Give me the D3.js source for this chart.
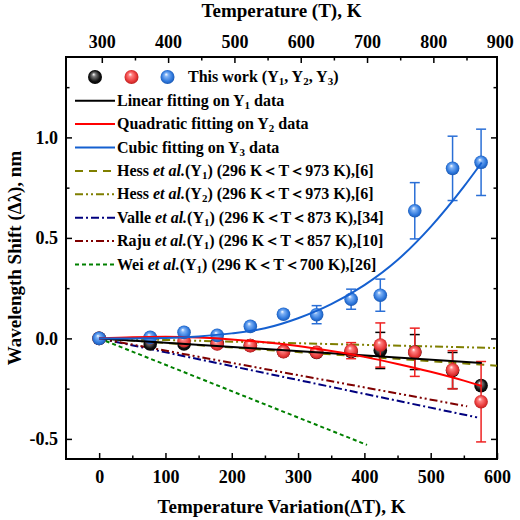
<!DOCTYPE html>
<html>
<head>
<meta charset="utf-8">
<script src="https://cdn.jsdelivr.net/npm/d3@7"></script>
<style>
body { margin: 0; background: #fff; }
text { font-family: "Liberation Serif", "Times New Roman", serif; font-weight: bold; }
</style>
</head>
<body>
<svg id="chart" width="520" height="520"></svg>
<script>
// measured points (temperature variation, K)
var dT = [0, 77, 128, 178, 228, 278, 328, 380, 424, 476, 533, 576];
var y1 = [0, -0.028, -0.028, -0.025, -0.035, -0.065, -0.07, -0.065, -0.06, -0.068, -0.16, -0.235];
var y1Err = [0, 0.01, 0.01, 0.01, 0.015, 0.015, 0.015, 0.02, 0.09, 0.087, 0.09, 0.02];
var y2 = [0, 0.003, -0.012, -0.028, -0.036, -0.066, -0.069, -0.061, -0.033, -0.069, -0.156, -0.315];
var y2Err = [0, 0.01, 0.015, 0.015, 0.02, 0.02, 0.02, 0.04, 0.11, 0.12, 0.095, 0.2];
var y3 = [0, 0.005, 0.03, 0.015, 0.06, 0.12, 0.118, 0.195, 0.215, 0.635, 0.846, 0.876];
var y3Err = [0, 0.01, 0.02, 0.015, 0.02, 0.02, 0.045, 0.05, 0.08, 0.14, 0.16, 0.165];

// fitted curves
var linFitX = [0, 577];
var linFitY = [0, -0.122];
var quadFitX = [0, 50, 100, 150, 200, 250, 300, 350, 400, 450, 500, 550, 577];
var quadFitY = [0, 0.006, 0.008, 0.004, -0.005, -0.019, -0.038, -0.063, -0.092, -0.127, -0.166, -0.21, -0.237];
var cubFitX = [0, 50, 100, 150, 200, 250, 300, 350, 400, 450, 500, 550, 577];
var cubFitY = [0, 0, 0.002, 0.01, 0.025, 0.05, 0.1, 0.17, 0.265, 0.39, 0.555, 0.755, 0.875];

// literature lines: start at origin, end point
var litNames = ["HessY1", "HessY2", "Valle", "Raju", "Wei"];
var litEndX = [600, 600, 570, 555, 404];
var litEndY = [-0.136, -0.048, -0.393, -0.338, -0.53];
var litColors = ["#7f7f00", "#7f7f00", "#00007f", "#7f0000", "#008000"];
var litDash = ["8,6", "8,3,2,3,2,3", "8,3,2,3", "8,3,2,3,2,3", "4,3"];

var svg = d3.select("#chart");
var pL = 66, pR = 497, pT = 57, pB = 459;

var x = d3.scaleLinear().domain([-50, 600]).range([pL, pR]);
var xTop = d3.scaleLinear().domain([246, 896]).range([pL, pR]);
var y = d3.scaleLinear().domain([-0.6, 1.4]).range([pB, pT]);

var defs = svg.append("defs");
defs.append("clipPath").attr("id", "plotclip")
    .append("rect").attr("x", pL).attr("y", pT).attr("width", pR - pL).attr("height", pB - pT);

function ballGrad(id, light, mid, dark) {
    var g = defs.append("radialGradient").attr("id", id)
        .attr("cx", "50%").attr("cy", "50%").attr("r", "55%").attr("fx", "40%").attr("fy", "30%");
    g.append("stop").attr("offset", "0%").attr("stop-color", "#ffffff");
    g.append("stop").attr("offset", "25%").attr("stop-color", light);
    g.append("stop").attr("offset", "70%").attr("stop-color", mid);
    g.append("stop").attr("offset", "100%").attr("stop-color", dark);
}
ballGrad("gBlack", "#777", "#111", "#000");
ballGrad("gRed", "#ff8080", "#e83a3a", "#b01818");
ballGrad("gBlue", "#7fb2f5", "#2f78dc", "#1450a8");

function isMajor(d) { return Math.abs(d * 2 - Math.round(d * 2)) < 1e-6; }

// axes: ticks inward on all four sides
var tickIn = 6, minorIn = 3.5;
var axB = d3.axisBottom(x).tickValues(d3.range(0, 601, 50)).tickFormat(function(d){ return d % 100 === 0 ? d : ""; })
    .tickSize(0);
var gB = svg.append("g").attr("transform", "translate(0," + pB + ")").call(axB);
gB.select(".domain").remove();
gB.selectAll(".tick line").attr("y2", function(d){ return d % 100 === 0 ? -tickIn : -minorIn; })
    .attr("stroke", "#000").attr("stroke-width", 1.5);
gB.selectAll("text").attr("y", 24).attr("dy", 0).attr("font-size", 18).attr("fill", "#000");

var axT = d3.axisTop(xTop).tickValues(d3.range(300, 901, 50)).tickFormat(function(d){ return d % 100 === 0 ? d : ""; })
    .tickSize(0);
var gT = svg.append("g").attr("transform", "translate(0," + pT + ")").call(axT);
gT.select(".domain").remove();
gT.selectAll(".tick line").attr("y2", function(d){ return d > 896 ? 0 : (d % 100 === 0 ? tickIn : minorIn); })
    .attr("stroke", "#000").attr("stroke-width", 1.5);
gT.selectAll("text").attr("y", -9).attr("dy", 0).attr("font-size", 18).attr("fill", "#000");

var axL = d3.axisLeft(y).tickValues(d3.range(-0.5, 1.26, 0.25))
    .tickFormat(function(d){ return isMajor(d) ? d.toFixed(1) : ""; })
    .tickSize(0);
var gL = svg.append("g").attr("transform", "translate(" + pL + ",0)").call(axL);
gL.select(".domain").remove();
gL.selectAll(".tick line").attr("x2", function(d){ return isMajor(d) ? tickIn : minorIn; })
    .attr("stroke", "#000").attr("stroke-width", 1.5);
gL.selectAll("text").attr("x", -8).attr("font-size", 18).attr("fill", "#000");

var axR = d3.axisRight(y).tickValues(d3.range(-0.5, 1.26, 0.25)).tickFormat("").tickSize(0);
var gR = svg.append("g").attr("transform", "translate(" + pR + ",0)").call(axR);
gR.select(".domain").remove();
gR.selectAll(".tick line").attr("x2", function(d){ return isMajor(d) ? -tickIn : -minorIn; })
    .attr("stroke", "#000").attr("stroke-width", 1.5);

svg.append("rect").attr("x", pL).attr("y", pT).attr("width", pR - pL).attr("height", pB - pT)
    .attr("fill", "none").attr("stroke", "#000").attr("stroke-width", 2);

// axis titles
svg.append("text").attr("x", (pL + pR) / 2).attr("y", 513).attr("text-anchor", "middle")
    .attr("font-size", 19).text("Temperature Variation(ΔT), K");
svg.append("text").attr("x", (pL + pR) / 2).attr("y", 17).attr("text-anchor", "middle")
    .attr("font-size", 19).text("Temperature (T), K");
svg.append("text").attr("transform", "translate(21," + ((pT + pB) / 2) + ") rotate(-90)")
    .attr("text-anchor", "middle").attr("font-size", 19).text("Wavelength Shift (Δλ), nm");

var plot = svg.append("g").attr("clip-path", "url(#plotclip)");
var line = d3.line().x(function(d){ return x(d[0]); }).y(function(d){ return y(d[1]); });
var smooth = d3.line().x(function(d){ return x(d[0]); }).y(function(d){ return y(d[1]); }).curve(d3.curveMonotoneX);

// literature lines
litNames.forEach(function(n, i) {
    plot.append("path").datum([[0, 0], [litEndX[i], litEndY[i]]])
        .attr("d", line).attr("fill", "none")
        .attr("stroke", litColors[i]).attr("stroke-width", 2).attr("stroke-dasharray", litDash[i]);
});

// points with error bars
function series(vals, errs, color, grad) {
    var pts = dT.map(function(t, i){ return { t: t, v: vals[i], e: errs[i] }; });
    var g = plot.append("g");
    var eb = g.selectAll(".eb").data(pts.filter(function(p){ return p.e > 0; })).enter().append("g");
    eb.append("line").attr("x1", function(p){ return x(p.t); }).attr("x2", function(p){ return x(p.t); })
        .attr("y1", function(p){ return y(p.v + p.e); }).attr("y2", function(p){ return y(p.v - p.e); })
        .attr("stroke", color).attr("stroke-width", 1.5);
    [1, -1].forEach(function(s) {
        eb.append("line").attr("x1", function(p){ return x(p.t) - 5; }).attr("x2", function(p){ return x(p.t) + 5; })
            .attr("y1", function(p){ return y(p.v + s * p.e); }).attr("y2", function(p){ return y(p.v + s * p.e); })
            .attr("stroke", color).attr("stroke-width", 1.5);
    });
    g.selectAll("circle").data(pts).enter().append("circle")
        .attr("cx", function(p){ return x(p.t); }).attr("cy", function(p){ return y(p.v); })
        .attr("r", 6.8).attr("fill", "url(#" + grad + ")");
}
series(y1, y1Err, "#000", "gBlack");
series(y2, y2Err, "#ee2222", "gRed");
series(y3, y3Err, "#2a6fd6", "gBlue");

// fits
plot.append("path").datum(linFitX.map(function(v, i){ return [v, linFitY[i]]; }))
    .attr("d", line).attr("fill", "none").attr("stroke", "#000").attr("stroke-width", 2);
plot.append("path").datum(quadFitX.map(function(v, i){ return [v, quadFitY[i]]; }))
    .attr("d", smooth).attr("fill", "none").attr("stroke", "#ff0000").attr("stroke-width", 2);
plot.append("path").datum(cubFitX.map(function(v, i){ return [v, cubFitY[i]]; }))
    .attr("d", smooth).attr("fill", "none").attr("stroke", "#1560d0").attr("stroke-width", 2);

// legend
var lg = svg.append("g");
[["gBlack", 95], ["gRed", 131.5], ["gBlue", 167.5]].forEach(function(b) {
    lg.append("circle").attr("cx", b[1]).attr("cy", 77).attr("r", 7).attr("fill", "url(#" + b[0] + ")");
});

function richText(xp, yp, parts) {
    var t = lg.append("text").attr("x", xp).attr("y", yp).attr("font-size", 16);
    var shift = 0;
    parts.forEach(function(p) {
        if (typeof p === "string") { t.append("tspan").text(p).attr("dy", -shift); shift = 0; }
        else if (p.sub) { t.append("tspan").attr("font-size", 11).attr("dy", 3 - shift).text(p.sub); shift = 3; }
        else if (p.it) { t.append("tspan").attr("font-style", "italic").attr("dy", -shift).text(p.it); shift = 0; }
    });
}
richText(188, 82, ["This work (Y", {sub: "1"}, ", Y", {sub: "2"}, ", Y", {sub: "3"}, ")"]);

var legRows = [
    { color: "#000", dash: null, parts: ["Linear fitting on Y", {sub: "1"}, " data"] },
    { color: "#ff0000", dash: null, parts: ["Quadratic fitting on Y", {sub: "2"}, " data"] },
    { color: "#1560d0", dash: null, parts: ["Cubic fitting on Y", {sub: "3"}, " data"] },
    { color: litColors[0], dash: litDash[0], parts: ["Hess ", {it: "et al."}, "(Y", {sub: "1"}, ") (296 K＜T＜973 K),[6]"] },
    { color: litColors[1], dash: litDash[1], parts: ["Hess ", {it: "et al."}, "(Y", {sub: "2"}, ") (296 K＜T＜973 K),[6]"] },
    { color: litColors[2], dash: litDash[2], parts: ["Valle ", {it: "et al."}, "(Y", {sub: "1"}, ") (296 K＜T＜873 K),[34]"] },
    { color: litColors[3], dash: litDash[3], parts: ["Raju ", {it: "et al."}, "(Y", {sub: "1"}, ") (296 K＜T＜857 K),[10]"] },
    { color: litColors[4], dash: litDash[4], parts: ["Wei ", {it: "et al."}, "(Y", {sub: "1"}, ") (296 K＜T＜700 K),[26]"] }
];
legRows.forEach(function(r, i) {
    var yy = 100.7 + i * 23.4;
    lg.append("line").attr("x1", 75).attr("x2", 115).attr("y1", yy).attr("y2", yy)
        .attr("stroke", r.color).attr("stroke-width", 2).attr("stroke-dasharray", r.dash);
    richText(117, yy + 5, r.parts);
});
</script>
</body>
</html>
